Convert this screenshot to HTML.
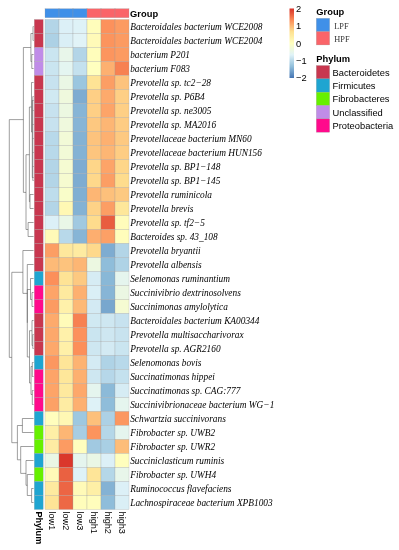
<!DOCTYPE html><html><head><meta charset="utf-8"><title>Heatmap</title><style>html,body{margin:0;padding:0;background:#fff}body{width:399px;height:550px;position:relative;overflow:hidden}</style></head><body><svg width="399" height="550" viewBox="0 0 399 550" style="position:absolute;left:0;top:0">
<rect x="45.0" y="8.7" width="14.0" height="9" fill="#4090E8" stroke="#999" stroke-width="0.25"/>
<rect x="59.0" y="8.7" width="14.0" height="9" fill="#4090E8" stroke="#999" stroke-width="0.25"/>
<rect x="73.0" y="8.7" width="14.0" height="9" fill="#4090E8" stroke="#999" stroke-width="0.25"/>
<rect x="87.0" y="8.7" width="14.0" height="9" fill="#FA6469" stroke="#999" stroke-width="0.25"/>
<rect x="101.0" y="8.7" width="14.0" height="9" fill="#FA6469" stroke="#999" stroke-width="0.25"/>
<rect x="115.0" y="8.7" width="14.0" height="9" fill="#FA6469" stroke="#999" stroke-width="0.25"/>
<rect x="34.3" y="19.5" width="8.9" height="14.0" fill="#C8374F" stroke="#999" stroke-width="0.25"/>
<rect x="45.0" y="19.5" width="14.0" height="14.0" fill="#B3D5E7" stroke="#999" stroke-width="0.25"/>
<rect x="59.0" y="19.5" width="14.0" height="14.0" fill="#DCF0F7" stroke="#999" stroke-width="0.25"/>
<rect x="73.0" y="19.5" width="14.0" height="14.0" fill="#DEF2F7" stroke="#999" stroke-width="0.25"/>
<rect x="87.0" y="19.5" width="14.0" height="14.0" fill="#FFFDBB" stroke="#999" stroke-width="0.25"/>
<rect x="101.0" y="19.5" width="14.0" height="14.0" fill="#FC915C" stroke="#999" stroke-width="0.25"/>
<rect x="115.0" y="19.5" width="14.0" height="14.0" fill="#FC9B62" stroke="#999" stroke-width="0.25"/>
<rect x="34.3" y="33.5" width="8.9" height="14.0" fill="#C8374F" stroke="#999" stroke-width="0.25"/>
<rect x="45.0" y="33.5" width="14.0" height="14.0" fill="#ADD1E5" stroke="#999" stroke-width="0.25"/>
<rect x="59.0" y="33.5" width="14.0" height="14.0" fill="#DAEFF6" stroke="#999" stroke-width="0.25"/>
<rect x="73.0" y="33.5" width="14.0" height="14.0" fill="#E1F3F7" stroke="#999" stroke-width="0.25"/>
<rect x="87.0" y="33.5" width="14.0" height="14.0" fill="#FFFAB8" stroke="#999" stroke-width="0.25"/>
<rect x="101.0" y="33.5" width="14.0" height="14.0" fill="#FC945D" stroke="#999" stroke-width="0.25"/>
<rect x="115.0" y="33.5" width="14.0" height="14.0" fill="#FC9B62" stroke="#999" stroke-width="0.25"/>
<rect x="34.3" y="47.5" width="8.9" height="14.0" fill="#C08CE8" stroke="#999" stroke-width="0.25"/>
<rect x="45.0" y="47.5" width="14.0" height="14.0" fill="#CAE5F0" stroke="#999" stroke-width="0.25"/>
<rect x="59.0" y="47.5" width="14.0" height="14.0" fill="#E8F6EA" stroke="#999" stroke-width="0.25"/>
<rect x="73.0" y="47.5" width="14.0" height="14.0" fill="#B3D5E7" stroke="#999" stroke-width="0.25"/>
<rect x="87.0" y="47.5" width="14.0" height="14.0" fill="#FFFDBB" stroke="#999" stroke-width="0.25"/>
<rect x="101.0" y="47.5" width="14.0" height="14.0" fill="#FC955E" stroke="#999" stroke-width="0.25"/>
<rect x="115.0" y="47.5" width="14.0" height="14.0" fill="#FC9B62" stroke="#999" stroke-width="0.25"/>
<rect x="34.3" y="61.5" width="8.9" height="14.0" fill="#C08CE8" stroke="#999" stroke-width="0.25"/>
<rect x="45.0" y="61.5" width="14.0" height="14.0" fill="#CAE5F0" stroke="#999" stroke-width="0.25"/>
<rect x="59.0" y="61.5" width="14.0" height="14.0" fill="#E4F5F1" stroke="#999" stroke-width="0.25"/>
<rect x="73.0" y="61.5" width="14.0" height="14.0" fill="#C4E1EE" stroke="#999" stroke-width="0.25"/>
<rect x="87.0" y="61.5" width="14.0" height="14.0" fill="#FFFFBF" stroke="#999" stroke-width="0.25"/>
<rect x="101.0" y="61.5" width="14.0" height="14.0" fill="#FDB070" stroke="#999" stroke-width="0.25"/>
<rect x="115.0" y="61.5" width="14.0" height="14.0" fill="#F78152" stroke="#999" stroke-width="0.25"/>
<rect x="34.3" y="75.5" width="8.9" height="14.0" fill="#C8374F" stroke="#999" stroke-width="0.25"/>
<rect x="45.0" y="75.5" width="14.0" height="14.0" fill="#C7E2EF" stroke="#999" stroke-width="0.25"/>
<rect x="59.0" y="75.5" width="14.0" height="14.0" fill="#EAF7E5" stroke="#999" stroke-width="0.25"/>
<rect x="73.0" y="75.5" width="14.0" height="14.0" fill="#9BC6DF" stroke="#999" stroke-width="0.25"/>
<rect x="87.0" y="75.5" width="14.0" height="14.0" fill="#FEE395" stroke="#999" stroke-width="0.25"/>
<rect x="101.0" y="75.5" width="14.0" height="14.0" fill="#FC9E64" stroke="#999" stroke-width="0.25"/>
<rect x="115.0" y="75.5" width="14.0" height="14.0" fill="#FDC37D" stroke="#999" stroke-width="0.25"/>
<rect x="34.3" y="89.5" width="8.9" height="14.0" fill="#C8374F" stroke="#999" stroke-width="0.25"/>
<rect x="45.0" y="89.5" width="14.0" height="14.0" fill="#D0E9F2" stroke="#999" stroke-width="0.25"/>
<rect x="59.0" y="89.5" width="14.0" height="14.0" fill="#EFF9DD" stroke="#999" stroke-width="0.25"/>
<rect x="73.0" y="89.5" width="14.0" height="14.0" fill="#7EACD1" stroke="#999" stroke-width="0.25"/>
<rect x="87.0" y="89.5" width="14.0" height="14.0" fill="#FECF85" stroke="#999" stroke-width="0.25"/>
<rect x="101.0" y="89.5" width="14.0" height="14.0" fill="#FDAA6C" stroke="#999" stroke-width="0.25"/>
<rect x="115.0" y="89.5" width="14.0" height="14.0" fill="#FECF85" stroke="#999" stroke-width="0.25"/>
<rect x="34.3" y="103.5" width="8.9" height="14.0" fill="#C8374F" stroke="#999" stroke-width="0.25"/>
<rect x="45.0" y="103.5" width="14.0" height="14.0" fill="#C7E2EF" stroke="#999" stroke-width="0.25"/>
<rect x="59.0" y="103.5" width="14.0" height="14.0" fill="#ECF8E1" stroke="#999" stroke-width="0.25"/>
<rect x="73.0" y="103.5" width="14.0" height="14.0" fill="#87B5D6" stroke="#999" stroke-width="0.25"/>
<rect x="87.0" y="103.5" width="14.0" height="14.0" fill="#FECF85" stroke="#999" stroke-width="0.25"/>
<rect x="101.0" y="103.5" width="14.0" height="14.0" fill="#FDA468" stroke="#999" stroke-width="0.25"/>
<rect x="115.0" y="103.5" width="14.0" height="14.0" fill="#FECF85" stroke="#999" stroke-width="0.25"/>
<rect x="34.3" y="117.5" width="8.9" height="14.0" fill="#C8374F" stroke="#999" stroke-width="0.25"/>
<rect x="45.0" y="117.5" width="14.0" height="14.0" fill="#C7E2EF" stroke="#999" stroke-width="0.25"/>
<rect x="59.0" y="117.5" width="14.0" height="14.0" fill="#EFF9DD" stroke="#999" stroke-width="0.25"/>
<rect x="73.0" y="117.5" width="14.0" height="14.0" fill="#87B5D6" stroke="#999" stroke-width="0.25"/>
<rect x="87.0" y="117.5" width="14.0" height="14.0" fill="#FDC880" stroke="#999" stroke-width="0.25"/>
<rect x="101.0" y="117.5" width="14.0" height="14.0" fill="#FDB674" stroke="#999" stroke-width="0.25"/>
<rect x="115.0" y="117.5" width="14.0" height="14.0" fill="#FECC83" stroke="#999" stroke-width="0.25"/>
<rect x="34.3" y="131.5" width="8.9" height="14.0" fill="#C8374F" stroke="#999" stroke-width="0.25"/>
<rect x="45.0" y="131.5" width="14.0" height="14.0" fill="#B8D9EA" stroke="#999" stroke-width="0.25"/>
<rect x="59.0" y="131.5" width="14.0" height="14.0" fill="#F2FAD7" stroke="#999" stroke-width="0.25"/>
<rect x="73.0" y="131.5" width="14.0" height="14.0" fill="#84B2D4" stroke="#999" stroke-width="0.25"/>
<rect x="87.0" y="131.5" width="14.0" height="14.0" fill="#FDC37D" stroke="#999" stroke-width="0.25"/>
<rect x="101.0" y="131.5" width="14.0" height="14.0" fill="#FDB070" stroke="#999" stroke-width="0.25"/>
<rect x="115.0" y="131.5" width="14.0" height="14.0" fill="#FDC981" stroke="#999" stroke-width="0.25"/>
<rect x="34.3" y="145.5" width="8.9" height="14.0" fill="#C8374F" stroke="#999" stroke-width="0.25"/>
<rect x="45.0" y="145.5" width="14.0" height="14.0" fill="#B8D9EA" stroke="#999" stroke-width="0.25"/>
<rect x="59.0" y="145.5" width="14.0" height="14.0" fill="#F2FAD7" stroke="#999" stroke-width="0.25"/>
<rect x="73.0" y="145.5" width="14.0" height="14.0" fill="#84B2D4" stroke="#999" stroke-width="0.25"/>
<rect x="87.0" y="145.5" width="14.0" height="14.0" fill="#FDC57E" stroke="#999" stroke-width="0.25"/>
<rect x="101.0" y="145.5" width="14.0" height="14.0" fill="#FDB674" stroke="#999" stroke-width="0.25"/>
<rect x="115.0" y="145.5" width="14.0" height="14.0" fill="#FECD83" stroke="#999" stroke-width="0.25"/>
<rect x="34.3" y="159.5" width="8.9" height="14.0" fill="#C8374F" stroke="#999" stroke-width="0.25"/>
<rect x="45.0" y="159.5" width="14.0" height="14.0" fill="#B3D5E7" stroke="#999" stroke-width="0.25"/>
<rect x="59.0" y="159.5" width="14.0" height="14.0" fill="#F5FBD2" stroke="#999" stroke-width="0.25"/>
<rect x="73.0" y="159.5" width="14.0" height="14.0" fill="#7EACD1" stroke="#999" stroke-width="0.25"/>
<rect x="87.0" y="159.5" width="14.0" height="14.0" fill="#FED689" stroke="#999" stroke-width="0.25"/>
<rect x="101.0" y="159.5" width="14.0" height="14.0" fill="#FDA468" stroke="#999" stroke-width="0.25"/>
<rect x="115.0" y="159.5" width="14.0" height="14.0" fill="#FED689" stroke="#999" stroke-width="0.25"/>
<rect x="34.3" y="173.5" width="8.9" height="14.0" fill="#C8374F" stroke="#999" stroke-width="0.25"/>
<rect x="45.0" y="173.5" width="14.0" height="14.0" fill="#B3D5E7" stroke="#999" stroke-width="0.25"/>
<rect x="59.0" y="173.5" width="14.0" height="14.0" fill="#F6FBD0" stroke="#999" stroke-width="0.25"/>
<rect x="73.0" y="173.5" width="14.0" height="14.0" fill="#7EACD1" stroke="#999" stroke-width="0.25"/>
<rect x="87.0" y="173.5" width="14.0" height="14.0" fill="#FED88B" stroke="#999" stroke-width="0.25"/>
<rect x="101.0" y="173.5" width="14.0" height="14.0" fill="#FC9E64" stroke="#999" stroke-width="0.25"/>
<rect x="115.0" y="173.5" width="14.0" height="14.0" fill="#FEDC8D" stroke="#999" stroke-width="0.25"/>
<rect x="34.3" y="187.5" width="8.9" height="14.0" fill="#C8374F" stroke="#999" stroke-width="0.25"/>
<rect x="45.0" y="187.5" width="14.0" height="14.0" fill="#BEDDEC" stroke="#999" stroke-width="0.25"/>
<rect x="59.0" y="187.5" width="14.0" height="14.0" fill="#F9FDC9" stroke="#999" stroke-width="0.25"/>
<rect x="73.0" y="187.5" width="14.0" height="14.0" fill="#80AFD2" stroke="#999" stroke-width="0.25"/>
<rect x="87.0" y="187.5" width="14.0" height="14.0" fill="#FDB674" stroke="#999" stroke-width="0.25"/>
<rect x="101.0" y="187.5" width="14.0" height="14.0" fill="#FDC07B" stroke="#999" stroke-width="0.25"/>
<rect x="115.0" y="187.5" width="14.0" height="14.0" fill="#FDC981" stroke="#999" stroke-width="0.25"/>
<rect x="34.3" y="201.5" width="8.9" height="14.0" fill="#C8374F" stroke="#999" stroke-width="0.25"/>
<rect x="45.0" y="201.5" width="14.0" height="14.0" fill="#B3D5E7" stroke="#999" stroke-width="0.25"/>
<rect x="59.0" y="201.5" width="14.0" height="14.0" fill="#FFF8B4" stroke="#999" stroke-width="0.25"/>
<rect x="73.0" y="201.5" width="14.0" height="14.0" fill="#84B2D4" stroke="#999" stroke-width="0.25"/>
<rect x="87.0" y="201.5" width="14.0" height="14.0" fill="#FED287" stroke="#999" stroke-width="0.25"/>
<rect x="101.0" y="201.5" width="14.0" height="14.0" fill="#FC9E64" stroke="#999" stroke-width="0.25"/>
<rect x="115.0" y="201.5" width="14.0" height="14.0" fill="#FEE79A" stroke="#999" stroke-width="0.25"/>
<rect x="34.3" y="215.5" width="8.9" height="14.0" fill="#C8374F" stroke="#999" stroke-width="0.25"/>
<rect x="45.0" y="215.5" width="14.0" height="14.0" fill="#DCF0F7" stroke="#999" stroke-width="0.25"/>
<rect x="59.0" y="215.5" width="14.0" height="14.0" fill="#E9F7E7" stroke="#999" stroke-width="0.25"/>
<rect x="73.0" y="215.5" width="14.0" height="14.0" fill="#A1C9E1" stroke="#999" stroke-width="0.25"/>
<rect x="87.0" y="215.5" width="14.0" height="14.0" fill="#FEDC8D" stroke="#999" stroke-width="0.25"/>
<rect x="101.0" y="215.5" width="14.0" height="14.0" fill="#E95D3F" stroke="#999" stroke-width="0.25"/>
<rect x="115.0" y="215.5" width="14.0" height="14.0" fill="#FFFCBB" stroke="#999" stroke-width="0.25"/>
<rect x="34.3" y="229.5" width="8.9" height="14.0" fill="#C8374F" stroke="#999" stroke-width="0.25"/>
<rect x="45.0" y="229.5" width="14.0" height="14.0" fill="#FFFAB8" stroke="#999" stroke-width="0.25"/>
<rect x="59.0" y="229.5" width="14.0" height="14.0" fill="#B8D9EA" stroke="#999" stroke-width="0.25"/>
<rect x="73.0" y="229.5" width="14.0" height="14.0" fill="#87B5D6" stroke="#999" stroke-width="0.25"/>
<rect x="87.0" y="229.5" width="14.0" height="14.0" fill="#FDAE6F" stroke="#999" stroke-width="0.25"/>
<rect x="101.0" y="229.5" width="14.0" height="14.0" fill="#FCA066" stroke="#999" stroke-width="0.25"/>
<rect x="115.0" y="229.5" width="14.0" height="14.0" fill="#FFFDBB" stroke="#999" stroke-width="0.25"/>
<rect x="34.3" y="243.5" width="8.9" height="14.0" fill="#C8374F" stroke="#999" stroke-width="0.25"/>
<rect x="45.0" y="243.5" width="14.0" height="14.0" fill="#FC9E64" stroke="#999" stroke-width="0.25"/>
<rect x="59.0" y="243.5" width="14.0" height="14.0" fill="#FEE89C" stroke="#999" stroke-width="0.25"/>
<rect x="73.0" y="243.5" width="14.0" height="14.0" fill="#FEEBA1" stroke="#999" stroke-width="0.25"/>
<rect x="87.0" y="243.5" width="14.0" height="14.0" fill="#FED98C" stroke="#999" stroke-width="0.25"/>
<rect x="101.0" y="243.5" width="14.0" height="14.0" fill="#7EACD1" stroke="#999" stroke-width="0.25"/>
<rect x="115.0" y="243.5" width="14.0" height="14.0" fill="#B3D5E7" stroke="#999" stroke-width="0.25"/>
<rect x="34.3" y="257.5" width="8.9" height="14.0" fill="#C8374F" stroke="#999" stroke-width="0.25"/>
<rect x="45.0" y="257.5" width="14.0" height="14.0" fill="#FDBA77" stroke="#999" stroke-width="0.25"/>
<rect x="59.0" y="257.5" width="14.0" height="14.0" fill="#FDC37D" stroke="#999" stroke-width="0.25"/>
<rect x="73.0" y="257.5" width="14.0" height="14.0" fill="#FDB674" stroke="#999" stroke-width="0.25"/>
<rect x="87.0" y="257.5" width="14.0" height="14.0" fill="#ECF8E1" stroke="#999" stroke-width="0.25"/>
<rect x="101.0" y="257.5" width="14.0" height="14.0" fill="#8FBDDA" stroke="#999" stroke-width="0.25"/>
<rect x="115.0" y="257.5" width="14.0" height="14.0" fill="#AFD3E6" stroke="#999" stroke-width="0.25"/>
<rect x="34.3" y="271.5" width="8.9" height="14.0" fill="#1FA5D1" stroke="#999" stroke-width="0.25"/>
<rect x="45.0" y="271.5" width="14.0" height="14.0" fill="#FC8F5A" stroke="#999" stroke-width="0.25"/>
<rect x="59.0" y="271.5" width="14.0" height="14.0" fill="#FEE395" stroke="#999" stroke-width="0.25"/>
<rect x="73.0" y="271.5" width="14.0" height="14.0" fill="#FDC981" stroke="#999" stroke-width="0.25"/>
<rect x="87.0" y="271.5" width="14.0" height="14.0" fill="#D6ECF4" stroke="#999" stroke-width="0.25"/>
<rect x="101.0" y="271.5" width="14.0" height="14.0" fill="#89B8D7" stroke="#999" stroke-width="0.25"/>
<rect x="115.0" y="271.5" width="14.0" height="14.0" fill="#E5F5EE" stroke="#999" stroke-width="0.25"/>
<rect x="34.3" y="285.5" width="8.9" height="14.0" fill="#FF0A8C" stroke="#999" stroke-width="0.25"/>
<rect x="45.0" y="285.5" width="14.0" height="14.0" fill="#FDA468" stroke="#999" stroke-width="0.25"/>
<rect x="59.0" y="285.5" width="14.0" height="14.0" fill="#FEEA9F" stroke="#999" stroke-width="0.25"/>
<rect x="73.0" y="285.5" width="14.0" height="14.0" fill="#FDB070" stroke="#999" stroke-width="0.25"/>
<rect x="87.0" y="285.5" width="14.0" height="14.0" fill="#DAEFF6" stroke="#999" stroke-width="0.25"/>
<rect x="101.0" y="285.5" width="14.0" height="14.0" fill="#87B5D6" stroke="#999" stroke-width="0.25"/>
<rect x="115.0" y="285.5" width="14.0" height="14.0" fill="#EBF7E3" stroke="#999" stroke-width="0.25"/>
<rect x="34.3" y="299.5" width="8.9" height="14.0" fill="#FF0A8C" stroke="#999" stroke-width="0.25"/>
<rect x="45.0" y="299.5" width="14.0" height="14.0" fill="#FC9B62" stroke="#999" stroke-width="0.25"/>
<rect x="59.0" y="299.5" width="14.0" height="14.0" fill="#FFF1AA" stroke="#999" stroke-width="0.25"/>
<rect x="73.0" y="299.5" width="14.0" height="14.0" fill="#FDB976" stroke="#999" stroke-width="0.25"/>
<rect x="87.0" y="299.5" width="14.0" height="14.0" fill="#D3EAF3" stroke="#999" stroke-width="0.25"/>
<rect x="101.0" y="299.5" width="14.0" height="14.0" fill="#78A7CE" stroke="#999" stroke-width="0.25"/>
<rect x="115.0" y="299.5" width="14.0" height="14.0" fill="#F5FBD2" stroke="#999" stroke-width="0.25"/>
<rect x="34.3" y="313.5" width="8.9" height="14.0" fill="#C8374F" stroke="#999" stroke-width="0.25"/>
<rect x="45.0" y="313.5" width="14.0" height="14.0" fill="#FDAA6C" stroke="#999" stroke-width="0.25"/>
<rect x="59.0" y="313.5" width="14.0" height="14.0" fill="#FFFBB9" stroke="#999" stroke-width="0.25"/>
<rect x="73.0" y="313.5" width="14.0" height="14.0" fill="#F78152" stroke="#999" stroke-width="0.25"/>
<rect x="87.0" y="313.5" width="14.0" height="14.0" fill="#D0E9F2" stroke="#999" stroke-width="0.25"/>
<rect x="101.0" y="313.5" width="14.0" height="14.0" fill="#CEE7F1" stroke="#999" stroke-width="0.25"/>
<rect x="115.0" y="313.5" width="14.0" height="14.0" fill="#C7E2EF" stroke="#999" stroke-width="0.25"/>
<rect x="34.3" y="327.5" width="8.9" height="14.0" fill="#C8374F" stroke="#999" stroke-width="0.25"/>
<rect x="45.0" y="327.5" width="14.0" height="14.0" fill="#FDA86B" stroke="#999" stroke-width="0.25"/>
<rect x="59.0" y="327.5" width="14.0" height="14.0" fill="#FFF1AA" stroke="#999" stroke-width="0.25"/>
<rect x="73.0" y="327.5" width="14.0" height="14.0" fill="#FC915C" stroke="#999" stroke-width="0.25"/>
<rect x="87.0" y="327.5" width="14.0" height="14.0" fill="#CAE5F0" stroke="#999" stroke-width="0.25"/>
<rect x="101.0" y="327.5" width="14.0" height="14.0" fill="#CEE7F1" stroke="#999" stroke-width="0.25"/>
<rect x="115.0" y="327.5" width="14.0" height="14.0" fill="#C8E3EF" stroke="#999" stroke-width="0.25"/>
<rect x="34.3" y="341.5" width="8.9" height="14.0" fill="#C8374F" stroke="#999" stroke-width="0.25"/>
<rect x="45.0" y="341.5" width="14.0" height="14.0" fill="#FDA86B" stroke="#999" stroke-width="0.25"/>
<rect x="59.0" y="341.5" width="14.0" height="14.0" fill="#FFF0A8" stroke="#999" stroke-width="0.25"/>
<rect x="73.0" y="341.5" width="14.0" height="14.0" fill="#FC8F5A" stroke="#999" stroke-width="0.25"/>
<rect x="87.0" y="341.5" width="14.0" height="14.0" fill="#CEE7F1" stroke="#999" stroke-width="0.25"/>
<rect x="101.0" y="341.5" width="14.0" height="14.0" fill="#D3EAF3" stroke="#999" stroke-width="0.25"/>
<rect x="115.0" y="341.5" width="14.0" height="14.0" fill="#CAE5F0" stroke="#999" stroke-width="0.25"/>
<rect x="34.3" y="355.5" width="8.9" height="14.0" fill="#1FA5D1" stroke="#999" stroke-width="0.25"/>
<rect x="45.0" y="355.5" width="14.0" height="14.0" fill="#FC9760" stroke="#999" stroke-width="0.25"/>
<rect x="59.0" y="355.5" width="14.0" height="14.0" fill="#FEE598" stroke="#999" stroke-width="0.25"/>
<rect x="73.0" y="355.5" width="14.0" height="14.0" fill="#FDB372" stroke="#999" stroke-width="0.25"/>
<rect x="87.0" y="355.5" width="14.0" height="14.0" fill="#D4EBF4" stroke="#999" stroke-width="0.25"/>
<rect x="101.0" y="355.5" width="14.0" height="14.0" fill="#AFD3E6" stroke="#999" stroke-width="0.25"/>
<rect x="115.0" y="355.5" width="14.0" height="14.0" fill="#B8D9EA" stroke="#999" stroke-width="0.25"/>
<rect x="34.3" y="369.5" width="8.9" height="14.0" fill="#FF0A8C" stroke="#999" stroke-width="0.25"/>
<rect x="45.0" y="369.5" width="14.0" height="14.0" fill="#FDA468" stroke="#999" stroke-width="0.25"/>
<rect x="59.0" y="369.5" width="14.0" height="14.0" fill="#FEE79A" stroke="#999" stroke-width="0.25"/>
<rect x="73.0" y="369.5" width="14.0" height="14.0" fill="#FDB070" stroke="#999" stroke-width="0.25"/>
<rect x="87.0" y="369.5" width="14.0" height="14.0" fill="#CEE7F1" stroke="#999" stroke-width="0.25"/>
<rect x="101.0" y="369.5" width="14.0" height="14.0" fill="#B6D7E9" stroke="#999" stroke-width="0.25"/>
<rect x="115.0" y="369.5" width="14.0" height="14.0" fill="#C4E1EE" stroke="#999" stroke-width="0.25"/>
<rect x="34.3" y="383.5" width="8.9" height="14.0" fill="#FF0A8C" stroke="#999" stroke-width="0.25"/>
<rect x="45.0" y="383.5" width="14.0" height="14.0" fill="#FDA468" stroke="#999" stroke-width="0.25"/>
<rect x="59.0" y="383.5" width="14.0" height="14.0" fill="#FEE99E" stroke="#999" stroke-width="0.25"/>
<rect x="73.0" y="383.5" width="14.0" height="14.0" fill="#FDA86B" stroke="#999" stroke-width="0.25"/>
<rect x="87.0" y="383.5" width="14.0" height="14.0" fill="#E5F5EE" stroke="#999" stroke-width="0.25"/>
<rect x="101.0" y="383.5" width="14.0" height="14.0" fill="#8CBAD8" stroke="#999" stroke-width="0.25"/>
<rect x="115.0" y="383.5" width="14.0" height="14.0" fill="#D6ECF4" stroke="#999" stroke-width="0.25"/>
<rect x="34.3" y="397.5" width="8.9" height="14.0" fill="#FF0A8C" stroke="#999" stroke-width="0.25"/>
<rect x="45.0" y="397.5" width="14.0" height="14.0" fill="#FCA166" stroke="#999" stroke-width="0.25"/>
<rect x="59.0" y="397.5" width="14.0" height="14.0" fill="#FEECA3" stroke="#999" stroke-width="0.25"/>
<rect x="73.0" y="397.5" width="14.0" height="14.0" fill="#FDB070" stroke="#999" stroke-width="0.25"/>
<rect x="87.0" y="397.5" width="14.0" height="14.0" fill="#DEF2F7" stroke="#999" stroke-width="0.25"/>
<rect x="101.0" y="397.5" width="14.0" height="14.0" fill="#8FBDDA" stroke="#999" stroke-width="0.25"/>
<rect x="115.0" y="397.5" width="14.0" height="14.0" fill="#E5F5EE" stroke="#999" stroke-width="0.25"/>
<rect x="34.3" y="411.5" width="8.9" height="14.0" fill="#1FA5D1" stroke="#999" stroke-width="0.25"/>
<rect x="45.0" y="411.5" width="14.0" height="14.0" fill="#FFFEBD" stroke="#999" stroke-width="0.25"/>
<rect x="59.0" y="411.5" width="14.0" height="14.0" fill="#FFF8B4" stroke="#999" stroke-width="0.25"/>
<rect x="73.0" y="411.5" width="14.0" height="14.0" fill="#9EC8E0" stroke="#999" stroke-width="0.25"/>
<rect x="87.0" y="411.5" width="14.0" height="14.0" fill="#FDC07B" stroke="#999" stroke-width="0.25"/>
<rect x="101.0" y="411.5" width="14.0" height="14.0" fill="#ADD1E5" stroke="#999" stroke-width="0.25"/>
<rect x="115.0" y="411.5" width="14.0" height="14.0" fill="#FC9760" stroke="#999" stroke-width="0.25"/>
<rect x="34.3" y="425.5" width="8.9" height="14.0" fill="#66F000" stroke="#999" stroke-width="0.25"/>
<rect x="45.0" y="425.5" width="14.0" height="14.0" fill="#FEEFA6" stroke="#999" stroke-width="0.25"/>
<rect x="59.0" y="425.5" width="14.0" height="14.0" fill="#FDB674" stroke="#999" stroke-width="0.25"/>
<rect x="73.0" y="425.5" width="14.0" height="14.0" fill="#A7CDE3" stroke="#999" stroke-width="0.25"/>
<rect x="87.0" y="425.5" width="14.0" height="14.0" fill="#FC945D" stroke="#999" stroke-width="0.25"/>
<rect x="101.0" y="425.5" width="14.0" height="14.0" fill="#B5D7E8" stroke="#999" stroke-width="0.25"/>
<rect x="115.0" y="425.5" width="14.0" height="14.0" fill="#E5F5EE" stroke="#999" stroke-width="0.25"/>
<rect x="34.3" y="439.5" width="8.9" height="14.0" fill="#66F000" stroke="#999" stroke-width="0.25"/>
<rect x="45.0" y="439.5" width="14.0" height="14.0" fill="#FEECA3" stroke="#999" stroke-width="0.25"/>
<rect x="59.0" y="439.5" width="14.0" height="14.0" fill="#FC9B62" stroke="#999" stroke-width="0.25"/>
<rect x="73.0" y="439.5" width="14.0" height="14.0" fill="#FFFEBE" stroke="#999" stroke-width="0.25"/>
<rect x="87.0" y="439.5" width="14.0" height="14.0" fill="#A1C9E1" stroke="#999" stroke-width="0.25"/>
<rect x="101.0" y="439.5" width="14.0" height="14.0" fill="#A9CFE4" stroke="#999" stroke-width="0.25"/>
<rect x="115.0" y="439.5" width="14.0" height="14.0" fill="#FDBD79" stroke="#999" stroke-width="0.25"/>
<rect x="34.3" y="453.5" width="8.9" height="14.0" fill="#1FA5D1" stroke="#999" stroke-width="0.25"/>
<rect x="45.0" y="453.5" width="14.0" height="14.0" fill="#EAF7E5" stroke="#999" stroke-width="0.25"/>
<rect x="59.0" y="453.5" width="14.0" height="14.0" fill="#DA372B" stroke="#999" stroke-width="0.25"/>
<rect x="73.0" y="453.5" width="14.0" height="14.0" fill="#E5F5EE" stroke="#999" stroke-width="0.25"/>
<rect x="87.0" y="453.5" width="14.0" height="14.0" fill="#EAF7E5" stroke="#999" stroke-width="0.25"/>
<rect x="101.0" y="453.5" width="14.0" height="14.0" fill="#DCF0F7" stroke="#999" stroke-width="0.25"/>
<rect x="115.0" y="453.5" width="14.0" height="14.0" fill="#FFFEBD" stroke="#999" stroke-width="0.25"/>
<rect x="34.3" y="467.5" width="8.9" height="14.0" fill="#66F000" stroke="#999" stroke-width="0.25"/>
<rect x="45.0" y="467.5" width="14.0" height="14.0" fill="#FFFAB8" stroke="#999" stroke-width="0.25"/>
<rect x="59.0" y="467.5" width="14.0" height="14.0" fill="#EA6141" stroke="#999" stroke-width="0.25"/>
<rect x="73.0" y="467.5" width="14.0" height="14.0" fill="#DEF2F7" stroke="#999" stroke-width="0.25"/>
<rect x="87.0" y="467.5" width="14.0" height="14.0" fill="#FEE598" stroke="#999" stroke-width="0.25"/>
<rect x="101.0" y="467.5" width="14.0" height="14.0" fill="#B5D7E8" stroke="#999" stroke-width="0.25"/>
<rect x="115.0" y="467.5" width="14.0" height="14.0" fill="#E8F6EA" stroke="#999" stroke-width="0.25"/>
<rect x="34.3" y="481.5" width="8.9" height="14.0" fill="#1FA5D1" stroke="#999" stroke-width="0.25"/>
<rect x="45.0" y="481.5" width="14.0" height="14.0" fill="#FEEA9F" stroke="#999" stroke-width="0.25"/>
<rect x="59.0" y="481.5" width="14.0" height="14.0" fill="#EC6544" stroke="#999" stroke-width="0.25"/>
<rect x="73.0" y="481.5" width="14.0" height="14.0" fill="#FFFAB8" stroke="#999" stroke-width="0.25"/>
<rect x="87.0" y="481.5" width="14.0" height="14.0" fill="#FEEFA6" stroke="#999" stroke-width="0.25"/>
<rect x="101.0" y="481.5" width="14.0" height="14.0" fill="#84B2D4" stroke="#999" stroke-width="0.25"/>
<rect x="115.0" y="481.5" width="14.0" height="14.0" fill="#DCF0F7" stroke="#999" stroke-width="0.25"/>
<rect x="34.3" y="495.5" width="8.9" height="14.0" fill="#1FA5D1" stroke="#999" stroke-width="0.25"/>
<rect x="45.0" y="495.5" width="14.0" height="14.0" fill="#FEE496" stroke="#999" stroke-width="0.25"/>
<rect x="59.0" y="495.5" width="14.0" height="14.0" fill="#ED6845" stroke="#999" stroke-width="0.25"/>
<rect x="73.0" y="495.5" width="14.0" height="14.0" fill="#FFFDBB" stroke="#999" stroke-width="0.25"/>
<rect x="87.0" y="495.5" width="14.0" height="14.0" fill="#FFFDBC" stroke="#999" stroke-width="0.25"/>
<rect x="101.0" y="495.5" width="14.0" height="14.0" fill="#8FBDDA" stroke="#999" stroke-width="0.25"/>
<rect x="115.0" y="495.5" width="14.0" height="14.0" fill="#DAEFF6" stroke="#999" stroke-width="0.25"/>
<path d="M33.0 26.5L33.6 26.5M33.0 40.5L33.6 40.5M33.0 26.5L33.0 40.5M31.8 54.5L33.6 54.5M31.8 68.5L33.6 68.5M31.8 54.5L31.8 68.5M30.9 33.5L33.0 33.5M30.9 61.5L31.8 61.5M30.9 33.5L30.9 61.5M23.4 47.5L30.9 47.5M23.4 192.4L26.0 192.4M23.4 47.5L23.4 192.4M26.0 154.7L29.4 154.7M26.0 229.5L28.1 229.5M26.0 154.7L26.0 229.5M28.1 222.5L33.6 222.5M28.1 236.5L33.6 236.5M28.1 222.5L28.1 236.5M29.4 107.0L31.5 107.0M29.4 201.6L30.0 201.6M29.4 107.0L29.4 201.6M30.0 194.5L33.6 194.5M30.0 208.5L33.6 208.5M30.0 194.5L30.0 208.5M31.5 82.5L33.6 82.5M31.5 132.0L32.3 132.0M31.5 82.5L31.5 132.0M32.3 100.5L33.6 100.5M32.3 177.5L33.6 177.5M32.3 100.5L32.3 177.5M32.8 96.5L33.6 96.5M32.8 110.5L33.6 110.5M32.8 124.5L33.6 124.5M32.8 138.5L33.6 138.5M32.8 152.5L33.6 152.5M32.8 166.5L33.6 166.5M32.8 180.5L33.6 180.5M32.8 96.5L32.8 180.5M9.3 119.6L23.4 119.6M9.3 357.4L11.8 357.4M9.3 119.6L9.3 357.4M11.8 272.3L22.9 272.3M11.8 442.7L17.4 442.7M11.8 272.3L11.8 442.7M22.9 250.5L33.6 250.5M22.9 293.4L27.3 293.4M22.9 250.5L22.9 293.4M27.3 264.5L33.6 264.5M27.3 264.5L27.3 322.8M27.3 289.5L27.3 357.0M27.3 289.5L30.5 289.5M30.5 278.5L33.6 278.5M30.5 299.5L32.0 299.5M30.5 278.5L30.5 299.5M32.0 292.5L33.6 292.5M32.0 306.5L33.6 306.5M32.0 292.5L32.0 306.5M27.3 357.0L29.5 357.0M29.5 330.7L32.0 330.7M29.5 383.0L31.0 383.0M29.5 330.7L29.5 383.0M32.0 320.5L33.6 320.5M32.0 345.5L32.8 345.5M32.0 320.5L32.0 345.5M32.8 334.5L33.6 334.5M32.8 348.5L33.6 348.5M32.8 334.5L32.8 348.5M31.0 366.5L32.3 366.5M31.0 394.5L32.3 394.5M31.0 366.5L31.0 394.5M32.3 362.5L33.6 362.5M32.3 376.5L33.6 376.5M32.3 362.5L32.3 376.5M32.3 390.5L33.6 390.5M32.3 404.5L33.6 404.5M32.3 390.5L32.3 404.5M17.4 425.5L22.4 425.5M17.4 459.8L20.7 459.8M17.4 425.5L17.4 459.8M22.4 418.5L33.6 418.5M22.4 432.5L33.6 432.5M22.4 418.5L22.4 432.5M20.7 446.5L33.6 446.5M20.7 473.4L26.0 473.4M20.7 446.5L20.7 473.4M26.0 460.5L33.6 460.5M26.0 485.3L27.3 485.3M26.0 460.5L26.0 485.3M27.3 474.5L33.6 474.5M27.3 495.5L31.6 495.5M27.3 474.5L27.3 495.5M31.6 488.5L33.6 488.5M31.6 502.5L33.6 502.5M31.6 488.5L31.6 502.5" fill="none" stroke="#505050" stroke-width="0.55"/>
<defs><linearGradient id="cb" x1="0" y1="1" x2="0" y2="0">
<stop offset="0.0000" stop-color="#4575B4"/>
<stop offset="0.1667" stop-color="#91BFDB"/>
<stop offset="0.3333" stop-color="#E0F3F8"/>
<stop offset="0.5000" stop-color="#FFFFBF"/>
<stop offset="0.6667" stop-color="#FEE090"/>
<stop offset="0.8333" stop-color="#FC8D59"/>
<stop offset="1.0000" stop-color="#D73027"/>
</linearGradient></defs>
<rect x="289.5" y="8.5" width="4.5" height="69.5" fill="url(#cb)"/>
<text x="296" y="11.9" style="font-family:'Liberation Sans',sans-serif;font-size:9.33px;fill:#000">2</text>
<text x="296" y="29.2" style="font-family:'Liberation Sans',sans-serif;font-size:9.33px;fill:#000">1</text>
<text x="296" y="46.5" style="font-family:'Liberation Sans',sans-serif;font-size:9.33px;fill:#000">0</text>
<text x="296" y="63.8" style="font-family:'Liberation Sans',sans-serif;font-size:9.33px;fill:#000">−1</text>
<text x="296" y="81.1" style="font-family:'Liberation Sans',sans-serif;font-size:9.33px;fill:#000">−2</text>
<text x="130.1" y="16.6" style="font-family:'Liberation Sans',sans-serif;font-size:9.33px;fill:#000;font-weight:bold">Group</text>
<text x="316.3" y="15.2" style="font-family:'Liberation Sans',sans-serif;font-size:9.33px;fill:#000;font-weight:bold">Group</text>
<text x="316.3" y="61.9" style="font-family:'Liberation Sans',sans-serif;font-size:9.33px;fill:#000;font-weight:bold">Phylum</text>
<rect x="316.3" y="18.3" width="13.35" height="13.35" fill="#4090E8" stroke="#999" stroke-width="0.25"/>
<text x="334.3" y="28.9" style="font-family:'Liberation Serif',serif;font-size:8.3px;fill:#333">LPF</text>
<rect x="316.3" y="31.6" width="13.35" height="13.35" fill="#FA6469" stroke="#999" stroke-width="0.25"/>
<text x="334.3" y="42.2" style="font-family:'Liberation Serif',serif;font-size:8.3px;fill:#333">HPF</text>
<rect x="316.3" y="65.5" width="13.35" height="13.35" fill="#C8374F" stroke="#999" stroke-width="0.25"/>
<text x="332.5" y="75.5" style="font-family:'Liberation Sans',sans-serif;font-size:9.33px;fill:#000">Bacteroidetes</text>
<rect x="316.3" y="78.8" width="13.35" height="13.35" fill="#1FA5D1" stroke="#999" stroke-width="0.25"/>
<text x="332.5" y="88.8" style="font-family:'Liberation Sans',sans-serif;font-size:9.33px;fill:#000">Firmicutes</text>
<rect x="316.3" y="92.2" width="13.35" height="13.35" fill="#66F000" stroke="#999" stroke-width="0.25"/>
<text x="332.5" y="102.2" style="font-family:'Liberation Sans',sans-serif;font-size:9.33px;fill:#000">Fibrobacteres</text>
<rect x="316.3" y="105.5" width="13.35" height="13.35" fill="#C08CE8" stroke="#999" stroke-width="0.25"/>
<text x="332.5" y="115.5" style="font-family:'Liberation Sans',sans-serif;font-size:9.33px;fill:#000">Unclassified</text>
<rect x="316.3" y="118.9" width="13.35" height="13.35" fill="#FF0A8C" stroke="#999" stroke-width="0.25"/>
<text x="332.5" y="128.9" style="font-family:'Liberation Sans',sans-serif;font-size:9.33px;fill:#000">Proteobacteria</text>
<text x="130.2" y="29.9" style="font-family:'Liberation Serif',serif;font-style:italic;font-size:9.33px;fill:#000">Bacteroidales bacterium WCE2008</text>
<text x="130.2" y="43.9" style="font-family:'Liberation Serif',serif;font-style:italic;font-size:9.33px;fill:#000">Bacteroidales bacterium WCE2004</text>
<text x="130.2" y="57.9" style="font-family:'Liberation Serif',serif;font-style:italic;font-size:9.33px;fill:#000">bacterium P201</text>
<text x="130.2" y="71.9" style="font-family:'Liberation Serif',serif;font-style:italic;font-size:9.33px;fill:#000">bacterium F083</text>
<text x="130.2" y="85.9" style="font-family:'Liberation Serif',serif;font-style:italic;font-size:9.33px;fill:#000">Prevotella sp. tc2−28</text>
<text x="130.2" y="99.9" style="font-family:'Liberation Serif',serif;font-style:italic;font-size:9.33px;fill:#000">Prevotella sp. P6B4</text>
<text x="130.2" y="113.9" style="font-family:'Liberation Serif',serif;font-style:italic;font-size:9.33px;fill:#000">Prevotella sp. ne3005</text>
<text x="130.2" y="127.9" style="font-family:'Liberation Serif',serif;font-style:italic;font-size:9.33px;fill:#000">Prevotella sp. MA2016</text>
<text x="130.2" y="141.9" style="font-family:'Liberation Serif',serif;font-style:italic;font-size:9.33px;fill:#000">Prevotellaceae bacterium MN60</text>
<text x="130.2" y="155.9" style="font-family:'Liberation Serif',serif;font-style:italic;font-size:9.33px;fill:#000">Prevotellaceae bacterium HUN156</text>
<text x="130.2" y="169.9" style="font-family:'Liberation Serif',serif;font-style:italic;font-size:9.33px;fill:#000">Prevotella sp. BP1−148</text>
<text x="130.2" y="183.9" style="font-family:'Liberation Serif',serif;font-style:italic;font-size:9.33px;fill:#000">Prevotella sp. BP1−145</text>
<text x="130.2" y="197.9" style="font-family:'Liberation Serif',serif;font-style:italic;font-size:9.33px;fill:#000">Prevotella ruminicola</text>
<text x="130.2" y="211.9" style="font-family:'Liberation Serif',serif;font-style:italic;font-size:9.33px;fill:#000">Prevotella brevis</text>
<text x="130.2" y="225.9" style="font-family:'Liberation Serif',serif;font-style:italic;font-size:9.33px;fill:#000">Prevotella sp. tf2−5</text>
<text x="130.2" y="239.9" style="font-family:'Liberation Serif',serif;font-style:italic;font-size:9.33px;fill:#000">Bacteroides sp. 43_108</text>
<text x="130.2" y="253.9" style="font-family:'Liberation Serif',serif;font-style:italic;font-size:9.33px;fill:#000">Prevotella bryantii</text>
<text x="130.2" y="267.9" style="font-family:'Liberation Serif',serif;font-style:italic;font-size:9.33px;fill:#000">Prevotella albensis</text>
<text x="130.2" y="281.9" style="font-family:'Liberation Serif',serif;font-style:italic;font-size:9.33px;fill:#000">Selenomonas ruminantium</text>
<text x="130.2" y="295.9" style="font-family:'Liberation Serif',serif;font-style:italic;font-size:9.33px;fill:#000">Succinivibrio dextrinosolvens</text>
<text x="130.2" y="309.9" style="font-family:'Liberation Serif',serif;font-style:italic;font-size:9.33px;fill:#000">Succinimonas amylolytica</text>
<text x="130.2" y="323.9" style="font-family:'Liberation Serif',serif;font-style:italic;font-size:9.33px;fill:#000">Bacteroidales bacterium KA00344</text>
<text x="130.2" y="337.9" style="font-family:'Liberation Serif',serif;font-style:italic;font-size:9.33px;fill:#000">Prevotella multisaccharivorax</text>
<text x="130.2" y="351.9" style="font-family:'Liberation Serif',serif;font-style:italic;font-size:9.33px;fill:#000">Prevotella sp. AGR2160</text>
<text x="130.2" y="365.9" style="font-family:'Liberation Serif',serif;font-style:italic;font-size:9.33px;fill:#000">Selenomonas bovis</text>
<text x="130.2" y="379.9" style="font-family:'Liberation Serif',serif;font-style:italic;font-size:9.33px;fill:#000">Succinatimonas hippei</text>
<text x="130.2" y="393.9" style="font-family:'Liberation Serif',serif;font-style:italic;font-size:9.33px;fill:#000">Succinatimonas sp. CAG:777</text>
<text x="130.2" y="407.9" style="font-family:'Liberation Serif',serif;font-style:italic;font-size:9.33px;fill:#000">Succinivibrionaceae bacterium WG−1</text>
<text x="130.2" y="421.9" style="font-family:'Liberation Serif',serif;font-style:italic;font-size:9.33px;fill:#000">Schwartzia succinivorans</text>
<text x="130.2" y="435.9" style="font-family:'Liberation Serif',serif;font-style:italic;font-size:9.33px;fill:#000">Fibrobacter sp. UWB2</text>
<text x="130.2" y="449.9" style="font-family:'Liberation Serif',serif;font-style:italic;font-size:9.33px;fill:#000">Fibrobacter sp. UWR2</text>
<text x="130.2" y="463.9" style="font-family:'Liberation Serif',serif;font-style:italic;font-size:9.33px;fill:#000">Succiniclasticum ruminis</text>
<text x="130.2" y="477.9" style="font-family:'Liberation Serif',serif;font-style:italic;font-size:9.33px;fill:#000">Fibrobacter sp. UWH4</text>
<text x="130.2" y="491.9" style="font-family:'Liberation Serif',serif;font-style:italic;font-size:9.33px;fill:#000">Ruminococcus flavefaciens</text>
<text x="130.2" y="505.9" style="font-family:'Liberation Serif',serif;font-style:italic;font-size:9.33px;fill:#000">Lachnospiraceae bacterium XPB1003</text>
<text transform="translate(48.9,511.6) rotate(90)" style="font-family:'Liberation Sans',sans-serif;font-size:9.33px;fill:#000;font-size:9.1px">low1</text>
<text transform="translate(62.9,511.6) rotate(90)" style="font-family:'Liberation Sans',sans-serif;font-size:9.33px;fill:#000;font-size:9.1px">low2</text>
<text transform="translate(76.9,511.6) rotate(90)" style="font-family:'Liberation Sans',sans-serif;font-size:9.33px;fill:#000;font-size:9.1px">low3</text>
<text transform="translate(90.9,511.6) rotate(90)" style="font-family:'Liberation Sans',sans-serif;font-size:9.33px;fill:#000;font-size:9.1px">high1</text>
<text transform="translate(104.9,511.6) rotate(90)" style="font-family:'Liberation Sans',sans-serif;font-size:9.33px;fill:#000;font-size:9.1px">high2</text>
<text transform="translate(118.9,511.6) rotate(90)" style="font-family:'Liberation Sans',sans-serif;font-size:9.33px;fill:#000;font-size:9.1px">high3</text>
<text transform="translate(36.0,511.4) rotate(90)" style="font-family:'Liberation Sans',sans-serif;font-size:9.33px;fill:#000;font-weight:bold;font-size:9.1px">Phylum</text>
</svg></body></html>
